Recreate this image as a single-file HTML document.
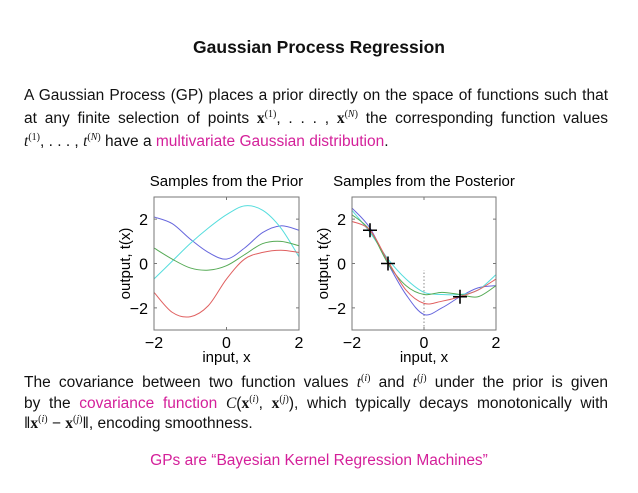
<!DOCTYPE html>
<html><head><meta charset="utf-8"><style>
body{margin:0;background:#fff;width:638px;height:493px;overflow:hidden;position:relative;font-family:"Liberation Sans",sans-serif;color:#111}
.l{position:absolute;left:24px;width:584px;font-size:15.5px;line-height:20px;white-space:nowrap}
.j{text-align:justify;text-align-last:justify;white-space:normal}
.m{font-family:"Liberation Serif",serif;font-style:italic}
.b{font-family:"Liberation Serif",serif;font-weight:bold}
sup{font-size:10px;font-family:"Liberation Serif",serif;vertical-align:6px;line-height:0}
.pk{color:#d4209a}
</style></head><body>
<div style="position:absolute;top:37px;left:0;width:638px;text-align:center;font-size:17.5px;font-weight:bold">Gaussian Process Regression</div>
<div class="l j" style="top:86px">A Gaussian Process (GP) places a prior directly on the space of functions such that</div>
<div class="l j" style="top:109px">at any finite selection of points <span class="b">x</span><sup>(1)</sup>, . . . , <span class="b">x</span><sup>(<i>N</i>)</sup> the corresponding function values</div>
<div class="l" style="top:132px"><span class="m">t</span><sup>(1)</sup>, . . . , <span class="m">t</span><sup>(<i>N</i>)</sup> have a <span class="pk">multivariate Gaussian distribution</span>.</div>
<div class="l j" style="top:373px">The covariance between two function values <span class="m">t</span><sup>(<i>i</i>)</sup> and <span class="m">t</span><sup>(<i>j</i>)</sup> under the prior is given</div>
<div class="l j" style="top:394px">by the <span class="pk">covariance function</span> <span class="m">C</span>(<span class="b">x</span><sup>(<i>i</i>)</sup>, <span class="b">x</span><sup>(<i>j</i>)</sup>), which typically decays monotonically with</div>
<div class="l" style="top:414px">‖<span class="b">x</span><sup>(<i>i</i>)</sup> − <span class="b">x</span><sup>(<i>j</i>)</sup>‖, encoding smoothness.</div>
<div class="pk" style="position:absolute;top:452px;left:0;width:638px;text-align:center;font-size:15.5px">GPs are “Bayesian Kernel Regression Machines”</div>
<svg id="chart" width="638" height="493" style="position:absolute;left:0;top:0" font-family="Liberation Sans, sans-serif"></svg>
<script>
const xs=[-2,-1.5,-1,-0.5,0,0.5,1,1.5,2];
const priorBlue=[2.1,1.8,1.1,0.5,0.2,0.7,1.4,1.7,1.5];
const priorCyan=[-0.7,0.1,0.9,1.6,2.2,2.6,2.4,1.6,0.3];
const priorGreen=[0.7,0.2,-0.2,-0.3,-0.1,0.4,0.9,1.0,0.8];
const priorRed=[-1.3,-2.2,-2.4,-1.9,-0.7,0.2,0.5,0.6,0.5];
const postBlue=[2.5,1.6,0.0,-1.4,-2.3,-2.0,-1.5,-1.1,-1.0];
const postCyan=[2.4,1.4,0.2,-0.7,-1.3,-1.4,-1.4,-1.2,-0.5];
const postGreen=[2.2,1.5,0.0,-1.0,-1.4,-1.3,-1.4,-1.5,-1.0];
const postRed=[1.9,1.5,0.1,-1.2,-1.8,-1.7,-1.5,-1.2,-0.7];
const obsX=[-1.5,-1,1];
const obsY=[1.5,0,-1.5];
const xTicks=[-2,0,2];
const yTicks=[-2,0,2];
const colors={blue:'#6666dd',cyan:'#55dddd',green:'#55aa55',red:'#e06060'};
const NS='http://www.w3.org/2000/svg';
const svg=document.getElementById('chart');
function mk(t,a,p){const e=document.createElementNS(NS,t);for(const k in a)e.setAttribute(k,a[k]);(p||svg).appendChild(e);return e;}
function panel(x0,x1,name,title,series,obs){
  const y0=197,y1=330;
  const sx=v=>x0+(v+2)/4*(x1-x0);
  const sy=v=>y1-(v+3)/6*(y1-y0);
  const g=mk('g',{});
  
  
  const t=mk('text',{x:(x0+x1)/2,y:186,'text-anchor':'middle','font-size':15},g);t.textContent=title;
  
  
  if(obs){const d=mk('line',{x1:sx(0),x2:sx(0),y1:sy(-3),y2:sy(-0.3),stroke:'#888','stroke-dasharray':'1.5,2'},g);
    
    }
  series.forEach(([nm,arr,c])=>{
    const P=xs.map((x,i)=>[sx(x),sy(arr[i])]);
    let d='M'+P[0];
    for(let i=0;i<P.length-1;i++){const p0=P[Math.max(0,i-1)],p1=P[i],p2=P[i+1],p3=P[Math.min(P.length-1,i+2)];
      d+=' C'+(p1[0]+(p2[0]-p0[0])/6)+','+(p1[1]+(p2[1]-p0[1])/6)+' '+(p2[0]-(p3[0]-p1[0])/6)+','+(p2[1]-(p3[1]-p1[1])/6)+' '+p2;}
    const pa=mk('path',{d:d,fill:'none',stroke:c,'stroke-width':1},g);
    
    
  });
  if(obs){obsX.forEach((x,i)=>{const X=sx(x),Y=sy(obsY[i]);
    const p=mk('path',{d:`M${X-7},${Y}H${X+7}M${X},${Y-7}V${Y+7}`,stroke:'#000','stroke-width':1.6},g);
    
    });}
  const f=mk('rect',{x:x0,y:y0,width:x1-x0,height:y1-y0,fill:'none',stroke:'#777','stroke-width':1},g);
  
  
  xTicks.forEach(v=>{mk('path',{d:`M${sx(v)},${y1}v-3M${sx(v)},${y0}v3`,stroke:'#777'},g);
    const l=mk('text',{x:sx(v),y:y1+18,'text-anchor':'middle','font-size':16},g);l.textContent=v<0?'−'+(-v):v;
    
    });
  yTicks.forEach(v=>{mk('path',{d:`M${x0},${sy(v)}h3M${x1},${sy(v)}h-3`,stroke:'#777'},g);
    const l=mk('text',{x:x0-6,y:sy(v)+6,'text-anchor':'end','font-size':16},g);l.textContent=v<0?'−'+(-v):v;
    
    });
  const xl=mk('text',{x:(x0+x1)/2,y:362,'text-anchor':'middle','font-size':15},g);xl.textContent='input, x';
  
  
  const yl=mk('text',{x:0,y:0,'text-anchor':'middle','font-size':15,transform:`translate(${x0-24},${(y0+y1)/2}) rotate(-90)`},g);yl.textContent='output, t(x)';
  
  
}
panel(154,299,'prior-plot','Samples from the Prior',[['blue',priorBlue,colors.blue],['cyan',priorCyan,colors.cyan],['green',priorGreen,colors.green],['red',priorRed,colors.red]],false);
panel(352,496,'posterior-plot','Samples from the Posterior',[['blue',postBlue,colors.blue],['cyan',postCyan,colors.cyan],['green',postGreen,colors.green],['red',postRed,colors.red]],true);
</script>
</body></html>
